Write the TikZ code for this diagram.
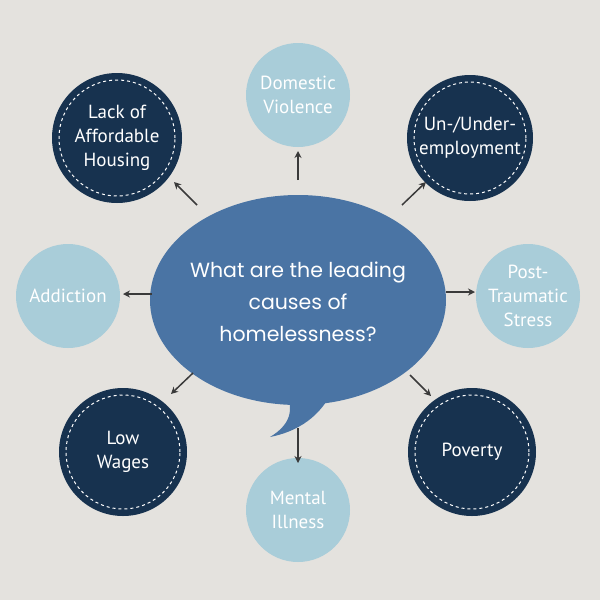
\documentclass[tikz,border=0pt]{standalone}
\usepackage{fontspec}
\setmainfont{PT Sans}
\newfontfamily\qfont{Poppins}
\usetikzlibrary{arrows.meta}
\definecolor{bg}{HTML}{E4E2DE}
\definecolor{lite}{HTML}{A9CDD9}
\definecolor{dark}{HTML}{17324F}
\definecolor{mid}{HTML}{4A74A4}
\definecolor{arr}{HTML}{3A3A3A}
\begin{document}
\begin{tikzpicture}[x=1pt,y=-1pt,
  lc/.style={circle,fill=lite,minimum size=104pt,inner sep=0pt,text=white,align=center,font=\fontsize{19}{24}\selectfont},
  dc/.style={circle,fill=dark,inner sep=0pt,text=white,align=center,font=\fontsize{19}{24}\selectfont,
    path picture={\draw[white,dashed,line width=1pt] (path picture bounding box.center) circle (\pgfkeysvalueof{/pgf/minimum width}/2-7pt);}},
  ar/.style={-{Stealth[length=7pt,width=7pt]},arr,line width=1.5pt}]
\fill[bg] (0,0) rectangle (600,600);
\useasboundingbox (0,0) rectangle (600,600);
% bubble
\fill[mid] (298,300) ellipse [x radius=148, y radius=105];
\fill[mid] (285,390) .. controls (295,410) and (290,425) .. (270,437) .. controls (305,430) and (325,410) .. (335,385) -- cycle;
\node[text=white,align=center,font=\qfont\fontsize{20.5}{32}\selectfont] (q) at (298,302) {What are the leading\\causes of\\homelessness?};
% circles
\node[lc] (dv) at (298,95) {Domestic\\Violence};
\node[dc,minimum size=130pt] (lh) at (117,138) {Lack of\\Affordable\\Housing};
\node[dc,minimum size=126pt] (ue) at (470,138) {Un-/Under-\\employment};
\node[lc] (ad) at (68,296) {Addiction};
\node[lc] (pt) at (528,296) {Post-\\Traumatic\\Stress};
\node[dc,minimum size=128pt] (lw) at (123,452) {Low\\Wages};
\node[lc] (mi) at (298,510) {Mental\\Illness};
\node[dc,minimum size=128pt] (pv) at (472,452) {Poverty};
% arrows
\coordinate (a1) at (298,180); \coordinate (b1) at (298,151); \draw[ar] (a1) -- (b1);
\coordinate (a2) at (197,205); \coordinate (b2) at (174,182); \draw[ar] (a2) -- (b2);
\coordinate (a3) at (402,205); \coordinate (b3) at (426,182); \draw[ar] (a3) -- (b3);
\coordinate (a4) at (152,294); \coordinate (b4) at (123,294); \draw[ar] (a4) -- (b4);
\coordinate (a5) at (446,292); \coordinate (b5) at (475,292); \draw[ar] (a5) -- (b5);
\coordinate (a6) at (193,373); \coordinate (b6) at (171,394); \draw[ar] (a6) -- (b6);
\coordinate (a7) at (298,428); \coordinate (b7) at (298,463); \draw[ar] (a7) -- (b7);
\coordinate (a8) at (410,375); \coordinate (b8) at (431,396); \draw[ar] (a8) -- (b8);
\end{tikzpicture}
\end{document}
